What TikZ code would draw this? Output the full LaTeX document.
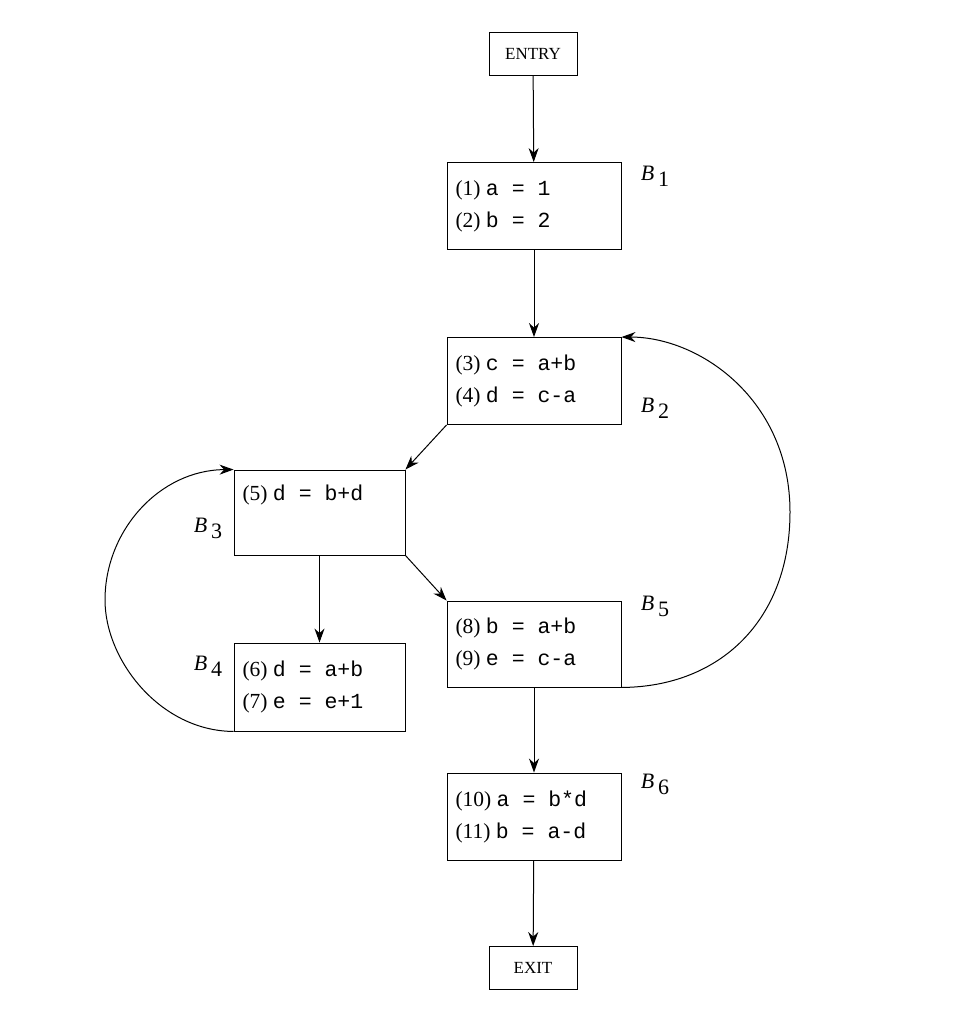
\documentclass[tikz,border=0pt]{standalone}
\usepackage{fontspec}
\setmainfont{Liberation Serif}
\setmonofont{Liberation Mono}
\usetikzlibrary{arrows.meta}
\begin{document}
\begin{tikzpicture}[x=1pt,y=-1pt,
  blk/.style={draw,line width=0.9pt,minimum width=174pt,minimum height=87pt,inner sep=0pt},
  small/.style={draw,line width=0.9pt,minimum width=88pt,minimum height=43pt,font=\fontsize{17}{19}\selectfont},
  code/.style={anchor=west,align=left,font=\fontsize{21.5}{32}\selectfont},
  lab/.style={font=\fontsize{22}{24}\selectfont\itshape},
  arr/.style={-{Stealth[length=14pt,width=10pt]},line width=1pt}]
\useasboundingbox (0,0) rectangle (966,1024);
\node[small] (entry) at (533,53.5) {ENTRY};
\node[small] (exit) at (533,968) {EXIT};
\node[blk] (b1) at (534,206) {};
\node[blk] (b2) at (534,381) {};
\node[blk,minimum width=171pt,minimum height=85pt] (b3) at (319.5,512.5) {};
\node[blk,minimum width=171pt,minimum height=88pt] (b4) at (319.5,687) {};
\node[blk,minimum width=174pt,minimum height=86pt] (b5) at (534,644) {};
\node[blk] (b6) at (534,816.5) {};
\node[code] (t1) at (452,206) {(1) \texttt{a = 1}\\(2) \texttt{b = 2}};
\node[code] (t2) at (452,381) {(3) \texttt{c = a+b}\\(4) \texttt{d = c-a}};
\node[code] (t3) at (239,495) {(5) \texttt{d = b+d}};
\node[code] (t4) at (239,687) {(6) \texttt{d = a+b}\\(7) \texttt{e = e+1}};
\node[code] (t5) at (452,644) {(8) \texttt{b = a+b}\\(9) \texttt{e = c-a}};
\node[code] (t6) at (452,816.5) {(10) \texttt{a = b*d}\\(11) \texttt{b = a-d}};
\node[lab] (l1) at (655,176) {B\,\raisebox{-6pt}{\upshape 1}};
\node[lab] (l2) at (655,408) {B\,\raisebox{-6pt}{\upshape 2}};
\node[lab] (l3) at (208,528) {B\,\raisebox{-6pt}{\upshape 3}};
\node[lab] (l4) at (208,666) {B\,\raisebox{-6pt}{\upshape 4}};
\node[lab] (l5) at (655,606) {B\,\raisebox{-6pt}{\upshape 5}};
\node[lab] (l6) at (655,784) {B\,\raisebox{-6pt}{\upshape 6}};
\draw[arr] (entry) -- (b1);
\draw[arr] (b1) -- (b2);
\draw[arr] (b2.south west) -- (b3.north east);
\draw[arr] (b3.south) -- (b4.north);
\draw[arr] (b3.south east) -- (b5.north west);
\draw[arr] (b5) -- (b6);
\draw[arr] (b6) -- (exit);
\draw[arr] (b5.south east) .. controls (720,687) and (790,620) .. (790,512)
  .. controls (790,400) and (700,337) .. (b2.north east);
\draw[arr] (b4.south west) .. controls (160,731) and (105,660) .. (105,600)
  .. controls (105,530) and (160,470) .. (b3.north west);
\end{tikzpicture}
\end{document}
